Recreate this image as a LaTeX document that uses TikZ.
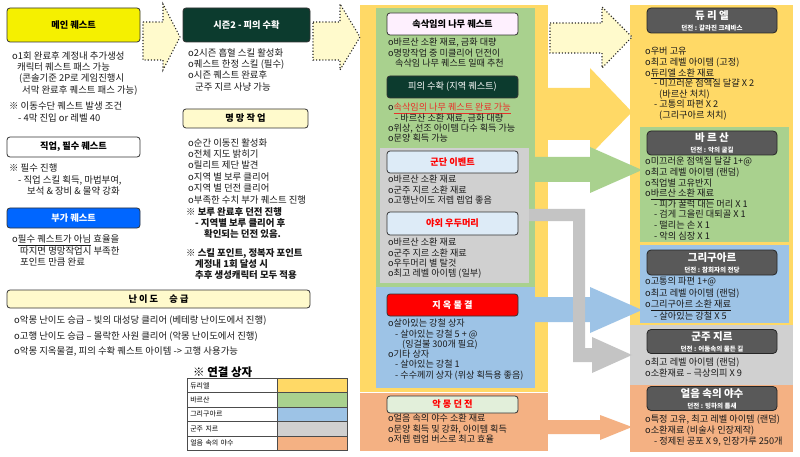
\documentclass[tikz,border=0pt]{standalone}
\usepackage{fontspec}
\setmainfont{Noto Sans CJK KR}
\definecolor{ryel}{HTML}{FFD966}
\definecolor{rgrn}{HTML}{A9D18E}
\definecolor{rgry}{HTML}{D0D0D0}
\definecolor{agry}{HTML}{C4C4C4}
\definecolor{rblu}{HTML}{9DC3E6}
\definecolor{rorg}{HTML}{F4B183}
\definecolor{mainy}{HTML}{F5F000}
\definecolor{dkgrn}{HTML}{0C3B2E}
\definecolor{lyel}{HTML}{FFFACC}
\definecolor{pinkw}{HTML}{FEF0FE}
\definecolor{lblu}{HTML}{DDEBF7}
\definecolor{lgrn}{HTML}{E2EFDA}
\definecolor{boxgry}{HTML}{595959}
\definecolor{qblue}{HTML}{0066FF}
\definecolor{txt}{HTML}{1A1A1A}
\definecolor{ulred}{HTML}{E8312A}
\begin{document}
\begin{tikzpicture}[x=1pt,y=-1pt,
  tb/.style={draw=black!80, line width=0.8pt, rounded corners=3pt, inner sep=0pt, font=\bfseries\fontsize{9.2}{10}\selectfont},
  rb/.style={fill=boxgry, draw=black!85, line width=0.8pt, rounded corners=4pt, inner sep=0pt, text=white, align=center, minimum width=130, minimum height=24},
  tx/.style={anchor=north west, align=left, inner sep=0pt, text=txt, font=\fontsize{9.4}{11.4}\selectfont},
  mx/.style={tx, font=\fontsize{9.1}{10.3}\selectfont},
  rx/.style={tx, font=\fontsize{9.2}{10.6}\selectfont},
  da/.style={draw=black!85, dotted, line width=1.1pt, fill=lyel},
  cell/.style={draw=black!70, line width=0.6pt, anchor=north west, inner sep=0pt, minimum height=14.4}]
\useasboundingbox (0,0) rectangle (800,457);
\fill[white] (0,0) rectangle (800,457);
% ---------- middle regions
\fill[ryel] (360,5) rectangle (548,392);
\fill[rgrn] (376,8) rectangle (535,287);
\fill[rgry] (380,148) rectangle (529,283);
\fill[rblu] (376,287) rectangle (535,388);
\fill[rorg] (360,393) rectangle (548,451);
% ---------- right regions
\fill[ryel] (630,5) rectangle (793,325);
\fill[rgrn] (640,127) rectangle (789,242);
\fill[rblu] (640,245) rectangle (789,323);
\fill[rgry] (630,325) rectangle (793,385);
\fill[rorg] (630,385) rectangle (793,452);
% ---------- arrows
\draw[da] (143,22) -- (163,22) -- (163,4) -- (180,37) -- (163,70) -- (163,60) -- (143,60) -- cycle;
\draw[da] (313,22) -- (340,22) -- (340,4) -- (360,37) -- (340,70) -- (340,60) -- (313,60) -- cycle;
\draw[da] (550,23) -- (602,23) -- (602,7) -- (632,37) -- (602,68) -- (602,53) -- (550,53) -- cycle;
\fill[ryel] (548,88) -- (590,88) -- (590,68) -- (632,112) -- (590,155) -- (590,140) -- (548,140) -- cycle;
\fill[rgrn] (535,157) -- (590,157) -- (590,147) -- (642,170) -- (590,193) -- (590,182) -- (535,182) -- cycle;
\fill[rblu] (535,297) -- (590,297) -- (590,287) -- (642,310) -- (590,333) -- (590,322) -- (535,322) -- cycle;
\fill[rorg] (548,420) -- (600,420) -- (600,415) -- (632,427) -- (600,440) -- (600,434) -- (548,434) -- cycle;
\fill[agry] (529,209) -- (585,209) -- (585,348) -- (592,348) -- (592,337) -- (632,355) -- (592,373) -- (592,362) -- (573,362) -- (573,221) -- (529,221) -- cycle;
% ---------- left column
\node[tb, fill=mainy, minimum width=133, minimum height=34] (main) at (73.5,25) {메인 퀘스트};
\node[tx] (mainT) at (12,51) {o1회 완료후 계정내 추가생성\\\hspace*{5pt}캐릭터 퀘스트 패스 가능\\\hspace*{7pt}(콘솔기준 2P로 게임진행시\\\hspace*{10pt}서막 완료후 퀘스트 패스 가능)};
\node[tx] (mainN) at (9,102) {※ 이동수단 퀘스트 발생 조건\\\hspace*{9pt}- 4막 진입 or 레벨 40};
\node[tb, fill=white, minimum width=133, minimum height=20] (job) at (73.5,147) {직업, 필수 퀘스트};
\node[tx] (jobT) at (9,164) {※ 필수 진행\\\hspace*{9pt}- 직업 스킬 획득, 마법부여,\\\hspace*{18pt}보석 \& 장비 \& 물약 강화};
\node[tb, fill=qblue, text=white, minimum width=133, minimum height=20] (sub) at (73.5,218) {부가 퀘스트};
\node[tx] (subT) at (12,235) {o\underline{필수 퀘스트가 아님} 효율을\\\hspace*{8pt}따지면 명망작업시 부족한\\\hspace*{8pt}포인트 만큼 완료};
\node[tb, fill=lyel, minimum width=303, minimum height=18] (diff) at (158.5,299) {난 이 도 \quad 승 급};
\node[tx, font=\fontsize{9.4}{15.5}\selectfont] (diffT) at (14,316) {o악몽 난이도 승급 – 빛의 대성당 클리어 (베테랑 난이도에서 진행)\\o고행 난이도 승급 – 몰락한 사원 클리어 (악몽 난이도에서 진행)\\o악몽 지옥물결, 피의 수확 퀘스트 아이템 -> 고행 사용가능};
% ---------- second column
\node[tb, fill=dkgrn, text=white, minimum width=127, minimum height=34] (s2) at (246.5,25) {시즌2 - 피의 수확};
\node[tx] (s2T) at (188,48) {o2시즌 흡혈 스킬 활성화\\o퀘스트 한정 스킬 (필수)\\o시즌 퀘스트 완료후\\\hspace*{7pt}군주 지르 사냥 가능};
\node[tb, fill=lyel, minimum width=125, minimum height=19] (fame) at (245.5,118.5) {명 망 작 업};
\node[tx] (fameT) at (188,138) {o순간 이동진 활성화\\o전체 지도 밝히기\\o릴리트 제단 발견\\o지역 별 보루 클리어\\o지역 별 던전 클리어\\o부족한 수치 부가 퀘스트 진행};
\node[tx, font=\bfseries\fontsize{9.4}{11.4}\selectfont] (fameN1) at (186,207) {※ 보루 완료후 던전 진행\\\hspace*{9pt}- 지역별 보루 클리어 후\\\hspace*{18pt}확인되는 던전 있음.};
\node[tx, font=\bfseries\fontsize{9.4}{11.4}\selectfont] (fameN2) at (186,248) {※ 스킬 포인트, 정복자 포인트\\\hspace*{9pt}계정내 1회 달성 시\\\hspace*{9pt}추후 생성캐릭터 모두 적용};
% ---------- legend
\node[anchor=west, inner sep=0pt, font=\bfseries\fontsize{11.5}{12}\selectfont] (legT) at (193,372) {※ 연결 상자};
\foreach \i/\t/\c in {0/듀리엘/ryel,1/바르산/rgrn,2/그리구아르/rblu,3/군주 지르/rgry,4/얼음 속의 야수/rorg}{
  \node[cell, fill=white, minimum width=90, text width=86, align=left, font=\fontsize{7}{8}\selectfont, inner xsep=3pt] (lab\i) at (187,{378+\i*14.4}) {\t};
  \node[cell, fill=\c, minimum width=70] (col\i) at (277,{378+\i*14.4}) {};
}
% ---------- middle column
\node[tb, fill=pinkw, minimum width=131, minimum height=22] (tree) at (452.5,24) {속삭임의 나무 퀘스트};
\node[mx] (treeT) at (388,38) {o바르산 소환 재료, 금화 대량\\o명망작업 중 미클리어 던전이\\\hspace*{7pt}속삭임 나무 퀘스트 일때 추천};
\node[tb, fill=dkgrn, text=white, font=\fontsize{9.2}{10}\selectfont, minimum width=131, minimum height=22] (blood) at (452.5,87) {피의 수확 (지역 퀘스트)};
\node[mx] (bloodT) at (388,103) {o{\color{ulred}\underline{속삭임의 나무 퀘스트 완료 가능}}\\\hspace*{7pt}- 바르산 소환 재료, 금화 대량\\o위상, 선조 아이템 다수 획득 가능\\o문양 획득 가능};
\node[tb, fill=lblu, text=red, minimum width=131, minimum height=22] (legion) at (452.5,162) {군단 이벤트};
\node[mx] (legionT) at (388,175) {o바르산 소환 재료\\o군주 지르 소환 재료\\o고행난이도 저렙 렙업 좋음};
\node[tb, fill=lblu, text=red, minimum width=131, minimum height=23] (boss) at (452.5,223.5) {야외 우두머리};
\node[mx] (bossT) at (388,238) {o바르산 소환 재료\\o군주 지르 소환 재료\\o우두머리 별 탈것\\o최고 레벨 아이템 (일부)};
\node[tb, fill=red, text=white, minimum width=131, minimum height=22] (hell) at (452.5,305) {지 옥 물 결};
\node[mx] (hellT) at (388,319) {o살아있는 강철 상자\\\hspace*{7pt}- 살아있는 강철 5 + @\\\hspace*{14pt}(잉걸불 300개 필요)\\o기타 상자\\\hspace*{7pt}- 살아있는 강철 1\\\hspace*{7pt}- 수수께끼 상자 (위상 획득용 좋음)};
\node[tb, fill=lgrn, text=red, minimum width=131, minimum height=17] (night) at (452.5,404.5) {악 몽 던 전};
\node[mx] (nightT) at (388,414) {o얼음 속의 야수 소환 재료\\o문양 획득 및 강화, 아이템 획득\\o저렙 렙업 버스로 최고 효율};
% ---------- right column
\node[rb, minimum height=25] (dur) at (712,20.5) {{\bfseries\fontsize{10.5}{11}\selectfont 듀 리 엘}\\[-1pt]{\bfseries\fontsize{6.5}{7}\selectfont 던전 : 갈라진 크레바스}};
\node[rx] (durT) at (645,47) {o우버 고유\\o최고 레벨 아이템 (고정)\\o\underline{듀리엘 소환 재료}\\\hspace*{9pt}- 미끄러운 점액질 달걀 X 2\\\hspace*{14pt}(바르산 처치)\\\hspace*{9pt}- 고통의 파편 X 2\\\hspace*{14pt}(그리구아르 처치)};
\node[rb] (var) at (712,143) {{\bfseries\fontsize{10.5}{11}\selectfont 바 르 산}\\[-1pt]{\bfseries\fontsize{6.5}{7}\selectfont 던전 : 악의 굴길}};
\node[rx] (varT) at (645,157) {o미끄러운 점액질 달걀 1+@\\o최고 레벨 아이템 (랜덤)\\o직업별 고유반지\\o\underline{바르산 소환 재료}\\\hspace*{9pt}- 피가 꿀럭 대는 머리 X 1\\\hspace*{9pt}- 검게 그을린 대퇴골 X 1\\\hspace*{9pt}- 떨리는 손 X 1\\\hspace*{9pt}- 악의 심장 X 1};
\node[rb, minimum height=25] (gri) at (712,262.5) {{\bfseries\fontsize{10.5}{11}\selectfont 그리구아르}\\[-1pt]{\bfseries\fontsize{6.5}{7}\selectfont 던전 : 참회자의 전당}};
\node[rx, font=\fontsize{9.2}{11.5}\selectfont] (griT) at (645,277) {o고통의 파편 1+@\\o최고 레벨 아이템 (랜덤)\\o\underline{그리구아르 소환 재료}\\\hspace*{9pt}- 살아있는 강철 X 5};
\node[rb] (zir) at (712,341.5) {{\bfseries\fontsize{10.5}{11}\selectfont 군주 지르}\\[-1pt]{\bfseries\fontsize{6.5}{7}\selectfont 던전 : 어둠속의 물든 길}};
\node[rx] (zirT) at (645,358) {o최고 레벨 아이템 (랜덤)\\o소환재료 – 극상의피 X 9};
\node[rb] (beast) at (712,398.5) {{\bfseries\fontsize{10.5}{11}\selectfont 얼음 속의 야수}\\[-1pt]{\bfseries\fontsize{6.5}{7}\selectfont 던전 : 빙하의 틈새}};
\node[rx] (beastT) at (645,415) {o특정 고유, 최고 레벨 아이템 (랜덤)\\o소환재료 (비술사 인장제작)\\\hspace*{9pt}- 정제된 공포 X 9, 인장가루 250개};
\end{tikzpicture}
\end{document}
